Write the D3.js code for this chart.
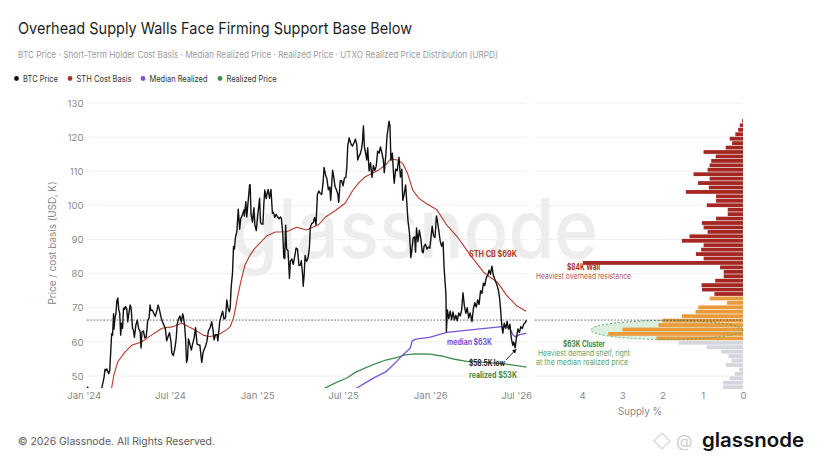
<!DOCTYPE html>
<html>
<head>
<meta charset="utf-8">
<script src="https://cdn.jsdelivr.net/npm/d3@7"></script>
<style>
  body { margin: 0; background: #fff; }
  svg { display: block; font-family: Inter, "Noto Sans", sans-serif; }
</style>
</head>
<body>
<div id="chart"></div>
<script>
// ---- data ----
var btcPrice = [
  ["2024-01-08",46.9],["2024-01-11",46.4],["2024-01-15",42.5],["2024-01-19",41.3],["2024-01-23",39.9],["2024-01-27",42.1],
  ["2024-01-31",42.6],["2024-02-04",42.6],["2024-02-07",44.3],["2024-02-09",47.1],["2024-02-11",48.3],["2024-02-13",49.7],
  ["2024-02-15",52.0],["2024-02-17",51.6],["2024-02-19",52.1],["2024-02-21",51.3],["2024-02-23",50.7],["2024-02-25",51.7],
  ["2024-02-27",57.0],["2024-02-29",62.4],["2024-03-02",62.0],["2024-03-04",68.3],["2024-03-05",63.8],["2024-03-07",67.0],
  ["2024-03-09",68.3],["2024-03-11",72.1],["2024-03-13",72.9],["2024-03-15",69.4],["2024-03-17",68.4],["2024-03-19",62.0],
  ["2024-03-21",65.5],["2024-03-23",64.0],["2024-03-25",69.9],["2024-03-27",69.5],["2024-03-29",70.4],["2024-04-01",69.6],
  ["2024-04-03",65.9],["2024-04-05",68.1],["2024-04-08",70.8],["2024-04-10",70.0],["2024-04-13",64.0],["2024-04-15",63.4],
  ["2024-04-17",61.3],["2024-04-20",64.9],["2024-04-23",66.4],["2024-04-26",63.8],["2024-04-29",63.1],["2024-05-01",58.2],
  ["2024-05-03",62.9],["2024-05-06",63.2],["2024-05-09",61.2],["2024-05-12",61.5],["2024-05-15",66.2],["2024-05-18",67.0],
  ["2024-05-20",70.8],["2024-05-22",69.2],["2024-05-25",69.3],["2024-05-28",68.3],["2024-05-31",67.5],["2024-06-03",68.9],
  ["2024-06-06",70.8],["2024-06-09",69.3],["2024-06-12",67.3],["2024-06-15",66.0],["2024-06-18",65.0],["2024-06-21",64.1],
  ["2024-06-24",60.3],["2024-06-27",61.6],["2024-06-30",62.7],["2024-07-03",60.2],["2024-07-05",56.7],["2024-07-08",56.0],
  ["2024-07-11",57.8],["2024-07-14",60.8],["2024-07-16",65.0],["2024-07-19",66.7],["2024-07-22",67.6],["2024-07-25",65.8],
  ["2024-07-28",68.2],["2024-07-30",66.8],["2024-08-01",64.6],["2024-08-03",60.7],["2024-08-05",54.0],["2024-08-07",55.1],
  ["2024-08-09",60.9],["2024-08-12",59.4],["2024-08-15",57.6],["2024-08-18",59.5],["2024-08-21",61.2],["2024-08-24",64.2],
  ["2024-08-27",59.4],["2024-08-30",59.1],["2024-09-02",59.1],["2024-09-06",54.0],["2024-09-09",57.0],["2024-09-12",58.1],
  ["2024-09-15",59.2],["2024-09-17",60.3],["2024-09-20",63.2],["2024-09-24",64.3],["2024-09-27",65.9],["2024-09-30",63.3],
  ["2024-10-02",60.6],["2024-10-05",62.1],["2024-10-08",62.2],["2024-10-10",60.3],["2024-10-14",66.0],["2024-10-17",67.6],
  ["2024-10-20",69.0],["2024-10-23",66.7],["2024-10-26",67.0],["2024-10-29",72.3],["2024-10-31",70.2],["2024-11-03",68.8],
  ["2024-11-05",70.0],["2024-11-07",75.9],["2024-11-10",80.4],["2024-11-12",88.0],["2024-11-14",87.2],["2024-11-16",90.6],
  ["2024-11-19",92.3],["2024-11-22",98.9],["2024-11-25",93.0],["2024-11-27",96.0],["2024-12-01",97.3],["2024-12-04",98.7],
  ["2024-12-05",96.9],["2024-12-08",101.1],["2024-12-10",96.6],["2024-12-13",101.4],["2024-12-16",106.0],["2024-12-17",106.1],
  ["2024-12-19",97.5],["2024-12-22",95.1],["2024-12-25",99.3],["2024-12-27",94.3],["2024-12-30",92.6],
  ["2025-01-02",97.0],["2025-01-06",102.1],["2025-01-08",95.0],["2025-01-10",94.5],["2025-01-13",94.5],["2025-01-15",100.5],
  ["2025-01-17",104.5],["2025-01-20",102.0],["2025-01-22",103.6],["2025-01-24",104.7],["2025-01-27",102.1],["2025-01-30",104.7],
  ["2025-02-02",97.7],["2025-02-04",98.0],["2025-02-07",96.5],["2025-02-10",97.4],["2025-02-13",96.6],["2025-02-16",96.1],
  ["2025-02-19",96.6],["2025-02-21",96.2],["2025-02-24",91.5],["2025-02-26",84.7],["2025-02-28",84.4],["2025-03-02",94.2],
  ["2025-03-04",87.2],["2025-03-07",86.7],["2025-03-10",78.6],["2025-03-12",83.7],["2025-03-15",84.3],["2025-03-18",82.7],
  ["2025-03-20",84.2],["2025-03-24",87.5],["2025-03-27",87.2],["2025-03-30",82.4],["2025-04-02",82.5],["2025-04-04",83.8],
  ["2025-04-07",79.2],["2025-04-08",76.3],["2025-04-10",79.6],["2025-04-12",85.3],["2025-04-15",83.6],["2025-04-18",84.5],
  ["2025-04-21",87.5],["2025-04-23",93.7],["2025-04-26",94.7],["2025-04-29",94.9],["2025-05-02",96.5],["2025-05-05",94.3],
  ["2025-05-08",103.2],["2025-05-11",104.2],["2025-05-14",103.5],["2025-05-17",103.2],["2025-05-20",106.8],["2025-05-22",111.1],
  ["2025-05-25",109.0],["2025-05-28",107.8],["2025-05-31",104.6],["2025-06-03",105.4],["2025-06-05",101.5],["2025-06-09",110.3],
  ["2025-06-11",108.7],["2025-06-14",105.6],["2025-06-17",104.6],["2025-06-20",103.3],["2025-06-22",100.9],["2025-06-25",107.2],
  ["2025-06-28",107.3],["2025-07-01",105.7],["2025-07-04",108.0],["2025-07-07",108.2],["2025-07-09",111.3],["2025-07-11",117.6],
  ["2025-07-14",119.8],["2025-07-16",118.7],["2025-07-18",117.9],["2025-07-21",117.4],["2025-07-24",118.3],["2025-07-27",119.4],
  ["2025-07-30",117.8],["2025-08-01",113.3],["2025-08-03",114.2],["2025-08-06",115.0],["2025-08-09",116.5],["2025-08-11",118.7],
  ["2025-08-13",123.3],["2025-08-15",117.4],["2025-08-18",115.0],["2025-08-20",113.3],["2025-08-22",116.9],["2025-08-25",110.1],
  ["2025-08-28",112.5],["2025-08-31",108.2],["2025-09-03",111.7],["2025-09-06",110.2],["2025-09-09",111.5],["2025-09-12",115.9],
  ["2025-09-15",115.3],["2025-09-18",117.1],["2025-09-21",115.3],["2025-09-24",113.3],["2025-09-26",109.6],["2025-09-29",114.4],
  ["2025-10-02",120.6],["2025-10-05",123.5],["2025-10-06",124.7],["2025-10-08",123.3],["2025-10-10",113.2],["2025-10-13",115.3],
  ["2025-10-16",108.2],["2025-10-17",106.5],["2025-10-20",110.6],["2025-10-23",110.1],["2025-10-27",114.1],["2025-10-30",108.3],
  ["2025-11-02",110.6],["2025-11-04",101.5],["2025-11-07",103.3],["2025-11-10",106.0],["2025-11-13",99.7],["2025-11-15",95.5],
  ["2025-11-18",92.1],["2025-11-21",84.7],["2025-11-23",86.8],["2025-11-26",90.5],["2025-11-29",90.8],["2025-12-01",86.3],
  ["2025-12-03",93.4],["2025-12-06",89.4],["2025-12-09",92.7],["2025-12-12",90.3],["2025-12-15",86.4],["2025-12-17",86.1],
  ["2025-12-19",88.1],["2025-12-22",88.6],["2025-12-25",87.2],["2025-12-28",87.8],["2025-12-31",87.5],
  ["2026-01-02",89.9],["2026-01-05",93.9],["2026-01-08",91.0],["2026-01-11",90.6],["2026-01-14",96.9],["2026-01-16",95.5],
  ["2026-01-19",92.6],["2026-01-22",89.5],["2026-01-25",88.0],["2026-01-28",89.3],["2026-01-30",82.0],["2026-02-01",78.0],
  ["2026-02-03",74.0],["2026-02-04",63.0],["2026-02-06",69.4],["2026-02-09",66.8],["2026-02-12",69.0],["2026-02-15",66.5],
  ["2026-02-18",68.8],["2026-02-21",66.4],["2026-02-24",67.8],["2026-02-27",66.2],["2026-03-02",68.5],["2026-03-05",67.6],
  ["2026-03-08",69.2],["2026-03-11",74.4],["2026-03-14",70.5],["2026-03-17",68.4],["2026-03-20",70.0],["2026-03-23",67.0],
  ["2026-03-26",68.5],["2026-03-30",66.0],["2026-04-02",69.8],["2026-04-05",71.5],["2026-04-08",70.2],["2026-04-11",72.3],
  ["2026-04-14",71.0],["2026-04-17",75.0],["2026-04-20",74.2],["2026-04-23",77.2],["2026-04-26",76.5],["2026-04-29",78.8],
  ["2026-05-02",79.4],["2026-05-05",81.0],["2026-05-08",79.8],["2026-05-11",82.2],["2026-05-14",79.5],["2026-05-18",78.0],
  ["2026-05-22",76.5],["2026-05-25",75.0],["2026-05-27",73.0],["2026-05-29",70.0],["2026-06-01",64.5],["2026-06-03",62.6],
  ["2026-06-06",65.5],["2026-06-09",64.0],["2026-06-12",66.0],["2026-06-15",63.8],["2026-06-18",65.2],["2026-06-21",61.0],
  ["2026-06-24",59.0],["2026-06-26",60.0],["2026-06-29",58.3],["2026-07-02",61.5],["2026-07-05",63.8],["2026-07-08",62.8],
  ["2026-07-11",64.5],["2026-07-14",63.9],["2026-07-17",65.2],["2026-07-20",65.6],["2026-07-23",66.4]
];

var sthCostBasis = [
  ["2024-02-27",45.0],["2024-03-05",50.5],["2024-03-13",54.2],["2024-03-28",57.0],["2024-04-11",59.0],["2024-05-02",60.0],
  ["2024-05-23",62.0],["2024-06-14",64.0],["2024-07-05",64.4],["2024-07-26",65.5],["2024-08-23",63.5],["2024-09-09",62.0],
  ["2024-09-23",61.5],["2024-10-15",62.4],["2024-10-29",63.6],["2024-11-05",64.5],["2024-11-12",67.0],["2024-11-19",72.0],
  ["2024-11-26",76.8],["2024-12-06",82.5],["2024-12-17",85.5],["2024-12-27",87.4],["2025-01-07",89.0],["2025-01-21",91.0],
  ["2025-02-08",92.2],["2025-03-04",92.3],["2025-03-25",93.6],["2025-04-15",92.8],["2025-05-10",94.3],["2025-05-25",96.6],
  ["2025-06-15",98.5],["2025-07-06",100.7],["2025-07-21",104.3],["2025-08-03",106.6],["2025-08-17",108.4],["2025-09-01",109.4],
  ["2025-09-14",110.4],["2025-09-29",111.9],["2025-10-09",113.6],["2025-10-24",113.3],["2025-11-04",112.3],["2025-11-14",109.4],
  ["2025-11-25",104.5],["2025-12-07",102.2],["2025-12-22",100.7],["2026-01-15",98.7],["2026-02-05",94.2],["2026-02-27",90.8],
  ["2026-03-26",85.5],["2026-04-23",80.5],["2026-05-06",79.0],["2026-05-22",77.6],["2026-06-12",73.5],["2026-07-03",70.5],
  ["2026-07-22",69.0]
];

var medianRealized = [
  ["2025-07-22",45.8],["2025-08-17",48.0],["2025-09-07",49.7],["2025-09-29",51.2],["2025-10-19",53.8],["2025-11-04",56.2],
  ["2025-11-14",57.4],["2025-11-20",58.3],["2025-11-24",60.3],["2025-12-01",60.8],["2025-12-22",61.2],["2026-01-01",61.4],
  ["2026-02-05",62.8],["2026-03-12",63.3],["2026-04-16",63.8],["2026-05-28",64.4],["2026-06-12",64.4],["2026-06-18",63.8],
  ["2026-06-25",62.0],["2026-06-29",61.5],["2026-07-10",62.2],["2026-07-23",62.5]
];

var realizedPrice = [
  ["2025-05-17",46.0],["2025-06-15",48.0],["2025-07-10",49.5],["2025-07-26",51.0],["2025-08-17",52.4],["2025-09-07",53.6],
  ["2025-09-29",54.7],["2025-10-24",55.5],["2025-11-09",56.2],["2025-11-30",56.5],["2026-01-01",56.4],["2026-01-28",55.8],
  ["2026-02-18",55.0],["2026-03-19",54.3],["2026-04-16",54.1],["2026-05-22",53.8],["2026-06-25",53.2],["2026-07-23",52.6]
];

// UTXO realized price distribution: bin centre (USD K) and share of supply (%)
var urpdLevel = [124.7,123.4,122.1,120.8,119.5,118.2,116.9,115.6,114.3,113.0,111.7,110.4,109.1,107.8,106.5,105.2,
  103.9,102.6,101.3,100.0,98.7,97.4,96.1,94.8,93.5,92.2,90.9,89.6,88.3,87.0,85.7,84.4,83.1,81.8,80.5,79.2,77.9,
  76.6,75.3,74.0,72.7,71.4,70.1,68.8,67.5,66.2,64.9,63.6,62.3,61.0,59.7,58.4,57.1,55.8,54.5,53.2,51.9,50.6,
  49.3,48.0,46.7];
var urpdSupply = [0.02,0.08,0.12,0.19,0.33,0.27,0.43,0.98,0.68,0.79,0.83,0.88,1.23,0.83,1.12,0.85,
  1.42,0.67,0.67,0.90,0.38,0.38,0.67,1.02,0.98,0.88,1.33,1.52,0.98,1.04,1.17,0.98,3.98,0.57,0.48,0.48,0.69,
  1.03,1.02,0.71,0.83,0.40,1.11,1.18,1.52,2.00,2.10,3.00,3.35,2.15,1.60,0.90,0.54,0.36,0.29,0.43,0.10,0.21,
  0.33,0.50,0.50];
var urpdBreaks = [60.35, 73.35];      // grey below / orange between / red above

var yTicks = [50, 60, 70, 80, 90, 100, 110, 120, 130];
var xTicks = ["2024-01-01","2024-07-01","2025-01-01","2025-07-01","2026-01-01","2026-07-01"];
var supplyTicks = [4, 3, 2, 1, 0];
var currentPrice = 66.4;
var priceLow = ["2026-06-29", 58.3];

var legendItems = ["BTC Price", "STH Cost Basis", "Median Realized", "Realized Price"];

// ---- setup ----
var parse = d3.timeParse("%Y-%m-%d");
function toPts(arr) { return arr.map(function (d) { return { date: parse(d[0]), v: d[1] }; }); }

var W = 828, H = 466;
var C = { price: "#111111", sth: "#b3392f", median: "#7b54d4", realized: "#3f8d4f",
          red: "#a52722", orange: "#e99b3c", grey: "#d3d6dc", axis: "#8a8a8a", grid: "#f0f0f0" };

var svg = d3.select("#chart").append("svg")
  .attr("width", W).attr("height", H);

var x = d3.scaleTime().domain([parse("2024-01-08"), parse("2026-07-24")]).range([87, 527]);
var y = d3.scaleLinear().domain([46.5, 130]).range([388, 103]);
var hx = d3.scaleLinear().domain([0, 5.17]).range([743, 535]);

// text helper; the reference face runs narrower than Inter, so widths are pinned
function label(t, px, py, o) {
  var el = svg.append("text").attr("x", px).attr("y", py)
    .attr("text-anchor", o.anchor || "start")
    .style("font-size", o.size + "px").style("font-weight", o.weight || 400)
    .style("fill", o.color).text(t);
  if (o.width) el.attr("textLength", o.width).attr("lengthAdjust", "spacingAndGlyphs");
  return el;
}

// titles
label("Overhead Supply Walls Face Firming Support Base Below", 18, 34,
  { size: 16.4, color: "#1e1e1e", width: 394 });
label("BTC Price \u00b7 Short-Term Holder Cost Basis \u00b7 Median Realized Price \u00b7 Realized Price \u00b7 UTXO Realized Price Distribution (URPD)",
  18, 57.5, { size: 9.4, color: "#9c9c9c", width: 480 });

// legend
var legendX = [16.5, 70, 143, 220];
var legendW = [35, 55, 58, 50];
var legendC = [C.price, "#a8362d", C.median, C.realized];
var lg = svg.selectAll("g.legend").data(legendItems).enter().append("g").classed("legend", true)
  .attr("transform", function (d, i) { return "translate(" + legendX[i] + ",78.5)"; });
lg.append("circle").attr("r", 2.4).style("fill", function (d, i) { return legendC[i]; });
lg.append("text").attr("x", 6.5).attr("y", 3.2)
  .attr("textLength", function (d, i) { return legendW[i]; }).attr("lengthAdjust", "spacingAndGlyphs")
  .style("font-size", "9px").style("fill", "#333").text(function (d) { return d; });

// watermark
svg.append("text").attr("x", 232).attr("y", 258)
  .attr("textLength", 366).attr("lengthAdjust", "spacingAndGlyphs")
  .style("font-size", "82px").style("font-weight", 500).style("fill", "#ededed")
  .text("glassnode");

// grid
svg.selectAll("line.grid").data(yTicks).enter().append("line").classed("grid", true)
  .attr("x1", 87).attr("x2", 527)
  .attr("y1", function (d) { return y(d); }).attr("y2", function (d) { return y(d); })
  .style("stroke", C.grid).style("stroke-width", 1);
svg.selectAll("line.hgrid").data(yTicks).enter().append("line").classed("hgrid", true)
  .attr("x1", 535).attr("x2", 743)
  .attr("y1", function (d) { return y(d); }).attr("y2", function (d) { return y(d); })
  .style("stroke", C.grid).style("stroke-width", 1);

// axes
var yAxis = svg.append("g").attr("transform", "translate(83.5,0)")
  .call(d3.axisLeft(y).tickValues(yTicks).tickSize(0).tickPadding(0));
var xAxis = svg.append("g").attr("transform", "translate(0,392)")
  .call(d3.axisBottom(x).tickValues(xTicks.map(parse)).tickSize(0).tickPadding(0)
    .tickFormat(d3.timeFormat("%b '%y")));
var hAxis = svg.append("g").attr("transform", "translate(0,392)")
  .call(d3.axisBottom(hx).tickValues(supplyTicks).tickSize(0).tickPadding(0)
    .tickFormat(d3.format("d")));
[yAxis, xAxis, hAxis].forEach(function (a) {
  a.select(".domain").remove();
  a.selectAll("text").style("font-size", "9.6px").style("fill", C.axis).style("font-family", "Inter, sans-serif");
});
xAxis.selectAll("text").attr("dy", "0.71em");
hAxis.selectAll("text").attr("dy", "0.71em");

svg.append("text").attr("transform", "translate(56,243) rotate(-90)")
  .attr("text-anchor", "middle").attr("textLength", 123).attr("lengthAdjust", "spacingAndGlyphs")
  .style("font-size", "10px").style("fill", C.axis)
  .text("Price / cost basis (USD, K)");
label("Supply %", 640, 415, { size: 10.3, color: C.axis, anchor: "middle", width: 44 });

// URPD histogram
var zone = d3.scaleThreshold().domain(urpdBreaks).range([C.grey, C.orange, C.red]);
var bins = urpdLevel.map(function (l, i) { return { level: l, pct: urpdSupply[i] }; });

var cluster = { cx: 667, cy: y(63.5), rx: 76, ry: 9.5 };
svg.append("ellipse").attr("cx", cluster.cx).attr("cy", cluster.cy)
  .attr("rx", cluster.rx).attr("ry", cluster.ry)
  .style("fill", "#dcefdf");

svg.selectAll("rect.urpd").data(bins).enter().append("rect").classed("urpd", true)
  .attr("x", function (d) { return hx(d.pct); })
  .attr("width", function (d) { return hx(0) - hx(d.pct); })
  .attr("y", function (d) { return y(d.level + 0.6); })
  .attr("height", function (d) { return y(d.level - 0.6) - y(d.level + 0.6) - 0.3; })
  .style("fill", function (d) { return zone(d.level); });

svg.append("ellipse").attr("cx", cluster.cx).attr("cy", cluster.cy)
  .attr("rx", cluster.rx).attr("ry", cluster.ry)
  .style("fill", "none").style("stroke", "#4f9a5f").style("stroke-width", 0.9)
  .style("stroke-dasharray", "2,2");

// current price dotted line
[[87, 527], [535, 743]].forEach(function (r) {
  svg.append("line").attr("x1", r[0]).attr("x2", r[1])
    .attr("y1", y(currentPrice)).attr("y2", y(currentPrice))
    .style("stroke", "#444").style("stroke-width", 0.9).style("stroke-dasharray", "1.5,1.8");
});

// lines
svg.append("clipPath").attr("id", "plotclip").append("rect")
  .attr("x", 87).attr("y", 100).attr("width", 440).attr("height", 288);
var plot = svg.append("g").attr("clip-path", "url(#plotclip)");
var line = d3.line().x(function (d) { return x(d.date); }).y(function (d) { return y(d.v); });

[[realizedPrice, C.realized, 1.3], [medianRealized, C.median, 1.3],
 [sthCostBasis, C.sth, 1.1], [btcPrice, C.price, 1.4]].forEach(function (s) {
  plot.append("path").datum(toPts(s[0]))
    .attr("d", line)
    .style("fill", "none").style("stroke", s[1]).style("stroke-width", s[2])
    .style("stroke-linejoin", "round");
});

// annotations
label("STH CB $69K", 469, 256.5, { size: 8.4, weight: 700, color: "#b03a30", width: 48 });
label("median $63K", 447, 345, { size: 8.4, weight: 700, color: C.median, width: 45 });
label("$58.5K low", 469, 366, { size: 8.4, weight: 700, color: "#1a1a1a", width: 36 });
label("realized $53K", 469, 377.5, { size: 8.4, weight: 700, color: C.realized, width: 48 });

svg.append("defs").append("marker").attr("id", "arrow")
  .attr("viewBox", "0 0 10 10").attr("refX", 9).attr("refY", 5)
  .attr("markerWidth", 5).attr("markerHeight", 5).attr("orient", "auto")
  .append("path").attr("d", "M0,0L10,5L0,10z").style("fill", "#111");
svg.append("line").attr("x1", 506).attr("y1", 360)
  .attr("x2", x(parse(priceLow[0])) + 1).attr("y2", y(priceLow[1]) + 1.5)
  .style("stroke", "#111").style("stroke-width", 0.9).attr("marker-end", "url(#arrow)");

label("$84K Wall", 583.5, 270, { size: 8.4, weight: 700, color: "#a8302a", anchor: "middle", width: 33 });
label("Heaviest overhead resistance", 583.5, 279, { size: 7.9, color: "#b35a54", anchor: "middle", width: 95 });
label("$63K Cluster", 584, 347, { size: 8.4, weight: 700, color: "#3d8a4d", anchor: "middle", width: 42 });
label("Heaviest demand shelf, right", 584, 356, { size: 7.9, color: "#5aa468", anchor: "middle", width: 92 });
label("at the median realized price", 582, 365, { size: 7.9, color: "#5aa468", anchor: "middle", width: 92 });

// footer
label("\u00a9 2026 Glassnode. All Rights Reserved.", 18, 445, { size: 10.4, color: "#5a5a5a", width: 197 });
svg.append("path").attr("d", "M662,433L670,441L662,449L654,441Z")
  .style("fill", "none").style("stroke", "#d8d8d8").style("stroke-width", 1.4);
label("@", 676, 447, { size: 17, color: "#d0d0d0" });
label("glassnode", 702, 447, { size: 20, weight: 600, color: "#111", width: 102 });
</script>
</body>
</html>
